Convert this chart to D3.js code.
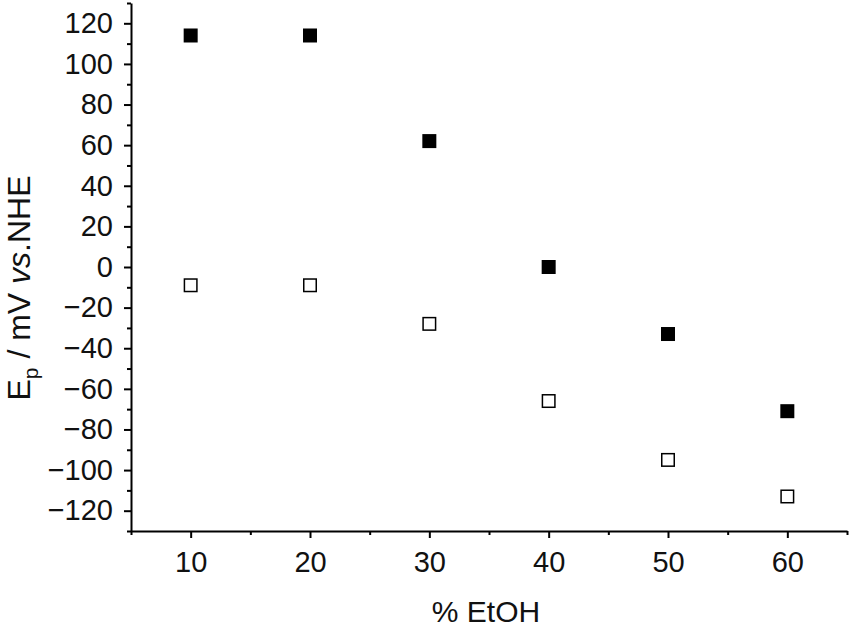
<!DOCTYPE html>
<html><head><meta charset="utf-8">
<script src="https://cdn.jsdelivr.net/npm/d3@7"></script>
<style>body{margin:0;background:#fff}text{font-family:"Liberation Sans",Arial,sans-serif}</style>
</head><body><svg id="c" width="850" height="633"></svg>
<script>
const ethanol = [10, 20, 30, 40, 50, 60];
const filledEp = [114, 114, 62, 0, -33, -71];
const openEp = [-9, -9, -28, -66, -95, -113];
const xTicks = [10, 20, 30, 40, 50, 60];
const yTicks = [-120,-100,-80,-60,-40,-20,0,20,40,60,80,100,120];

const svg = d3.select("#c");
const L=131, R=847, T=3, B=531;
const x = d3.scaleLinear().domain([5,65]).range([L,R]);
const y = d3.scaleLinear().domain([-130,130]).range([B,T]);

const xMinor = d3.range(5,66,5).filter(v=>v%10!==0);
const yMinor = d3.range(-130,131,20);

const gx = svg.append("g").attr("transform",`translate(0,${B})`);
gx.call(d3.axisBottom(x).tickValues(xTicks).tickSize(7).tickPadding(13).tickSizeOuter(0));
gx.append("g").call(d3.axisBottom(x).tickValues(xMinor).tickSize(4).tickFormat("").tickSizeOuter(0)).select(".domain").remove();
const gy = svg.append("g").attr("transform",`translate(${L},0)`);
gy.call(d3.axisLeft(y).tickValues(yTicks).tickSize(7).tickPadding(11).tickSizeOuter(0));
gy.append("g").call(d3.axisLeft(y).tickValues(yMinor).tickSize(4).tickFormat("").tickSizeOuter(0)).select(".domain").remove();
svg.selectAll(".domain,.tick line").attr("stroke","#000").attr("stroke-width",2);
svg.selectAll(".tick text").attr("font-size",29).attr("fill","#111").attr("font-family","Liberation Sans, Arial, sans-serif");

const s=14;
svg.selectAll(".f").data(ethanol).join("rect")
  .attr("x",(d)=>x(d)-s/2).attr("y",(d,i)=>y(filledEp[i])-s/2).attr("width",s).attr("height",s).attr("fill","#000");
svg.selectAll(".o").data(ethanol).join("rect")
  .attr("x",(d)=>x(d)-s/2+0.75).attr("y",(d,i)=>y(openEp[i])-s/2+0.75).attr("width",s-1.5).attr("height",s-1.5)
  .attr("fill","#fff").attr("stroke","#000").attr("stroke-width",1.5);

svg.append("text").attr("x",486).attr("y",622).attr("text-anchor","middle").attr("font-size",30).attr("fill","#111").text("% EtOH");
const yt = svg.append("text").attr("transform",`translate(30,${288}) rotate(-90)`).attr("text-anchor","middle").attr("font-size",32).attr("fill","#111");
yt.append("tspan").text("E");
yt.append("tspan").attr("font-size",21).attr("dy",8).text("p");
yt.append("tspan").attr("dy",-8).text(" / mV ");
yt.append("tspan").attr("font-style","italic").text("vs");
yt.append("tspan").text(".NHE");
</script></body></html>
